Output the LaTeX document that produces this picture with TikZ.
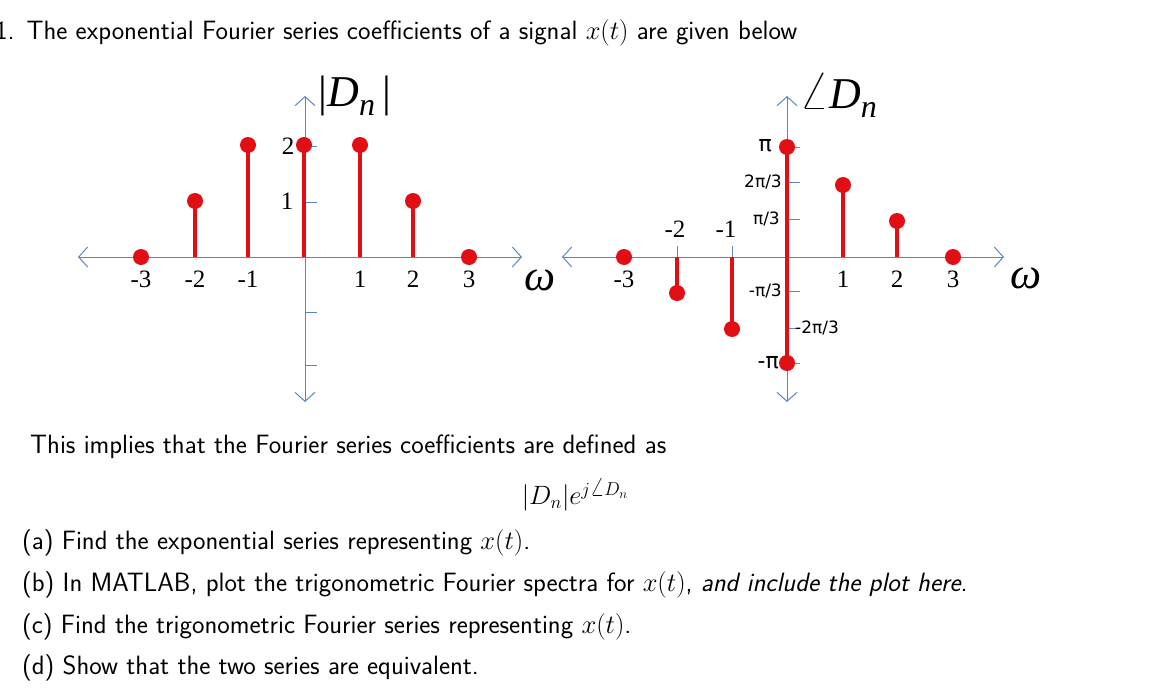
\RequirePackage{fix-cm}
\documentclass[tikz,border=0pt]{standalone}
\usepackage{fontspec}
\newfontfamily\tms{Liberation Serif}
\newfontfamily\dvs{DejaVu Sans}
\usetikzlibrary{arrows.meta}
\definecolor{axb}{RGB}{90,135,195}
\definecolor{stm}{RGB}{225,15,20}
\tikzset{
 ax/.style={axb,line width=1pt,{Straight Barb[length=9pt,width=20pt]}-{Straight Barb[length=9pt,width=20pt]}},
 tk/.style={axb,line width=1pt},
 stemline/.style={stm,line width=4pt},
 dot/.style={circle,fill=stm,inner sep=0pt,minimum size=16pt},
 tl/.style={font=\fontsize{25}{25}\selectfont\tms,inner sep=1pt},
 pl/.style={font=\fontsize{17}{17}\selectfont\dvs,inner sep=1pt},
 bigpl/.style={font=\fontsize{22}{22}\selectfont\dvs,inner sep=1pt},
 big/.style={font=\fontsize{44}{44}\selectfont\tms,inner sep=0pt},
 txt/.style={font=\fontsize{26.5}{30}\selectfont\sffamily,anchor=west,inner sep=0pt},
}
\newcommand{\subn}{\raisebox{-9pt}{\fontsize{32}{32}\selectfont\itshape n}}
\begin{document}
\begin{tikzpicture}[x=1pt,y=-1pt]
\useasboundingbox (0,0) rectangle (1150,693);
\clip (0,0) rectangle (1150,693);
% left plot
\draw[ax] (78,257) -- (522,257);
\draw[ax] (305,402) -- (305,96);
\foreach \y in {146,202,312,365} \draw[tk] (305,\y) -- (317,\y);
\foreach \x in {141,469} \draw[tk] (\x,250) -- (\x,257);
\foreach \x/\v in {141/0,195/1,248/2,304/2,360/2,413/1,469/0}{
  \draw[stemline] (\x,257) -- (\x,257-56*\v);
  \node[dot] at (\x,257-56*\v) {};}
\foreach \x/\l in {141/-3,195/-2,248/-1,360/1,413/2,469/3}
  \node[tl] at (\x,279) {\l};
\node[tl] (l2) at (288,146) {2};
\node[tl] (l1) at (287,201) {1};
\node[big] (Dn) at (355,96) {|\textit{D}\subn\,|};
\node[big] (w1) at (540,280) {\textit{ω}};
% right plot
\draw[ax] (562,257) -- (1004,257);
\draw[ax] (787,402) -- (787,96);
\foreach \y in {147,182,219,291,328,363} \draw[tk] (787,\y) -- (800,\y);
\foreach \x in {624,953} \draw[tk] (\x,250) -- (\x,257);
\foreach \x in {677,732} \draw[tk] (\x,246) -- (\x,257);
\draw[stemline] (787,147) -- (787,363);
\node[dot] at (787,147) {}; \node[dot] at (787,363) {};
\foreach \x/\v in {624/0,677/-1,732/-2,843/2,897/1,953/0}{
  \draw[stemline] (\x,257) -- (\x,257-36*\v);
  \node[dot] at (\x,257-36*\v) {};}
\foreach \x/\l in {624/-3,843/1,897/2,953/3}
  \node[tl] at (\x,279) {\l};
\node[tl] at (675,229) {-2};
\node[tl] at (726,229) {-1};
\node[bigpl,anchor=east] at (773,146) {π};
\node[pl,anchor=east] at (783,182) {2π/3};
\node[pl,anchor=east] at (781,219) {π/3};
\node[pl,anchor=east] at (783,291) {-π/3};
\node[pl,anchor=west] at (794,328) {-2π/3};
\node[bigpl,anchor=east] at (780,363) {-π};
\node[big] (An) at (838,96) {\scalebox{1.25}{$\angle$}\textit{D}\subn};
\node[big] (w2) at (1026,278) {\textit{ω}};
% text
\node[txt] (t0) at (-5,33) {1.\hspace{12pt}The exponential Fourier series coefficients of a signal $x(t)$ are given below};
\node[txt] (t1) at (30,447) {This implies that the Fourier series coefficients are defined as};
\node[font=\fontsize{26.5}{30}\selectfont,inner sep=0pt] (eq) at (575,495) {$|D_n|e^{j\angle D_n}$};
\node[txt] (ta) at (22,543) {(a) Find the exponential series representing $x(t)$.};
\node[txt] (tb) at (22,585) {(b) In MATLAB, plot the trigonometric Fourier spectra for $x(t)$, \textit{and include the plot here}.};
\node[txt] (tc) at (22,627) {(c) Find the trigonometric Fourier series representing $x(t)$.};
\node[txt] (td) at (22,668) {(d) Show that the two series are equivalent.};
\end{tikzpicture}
\end{document}
